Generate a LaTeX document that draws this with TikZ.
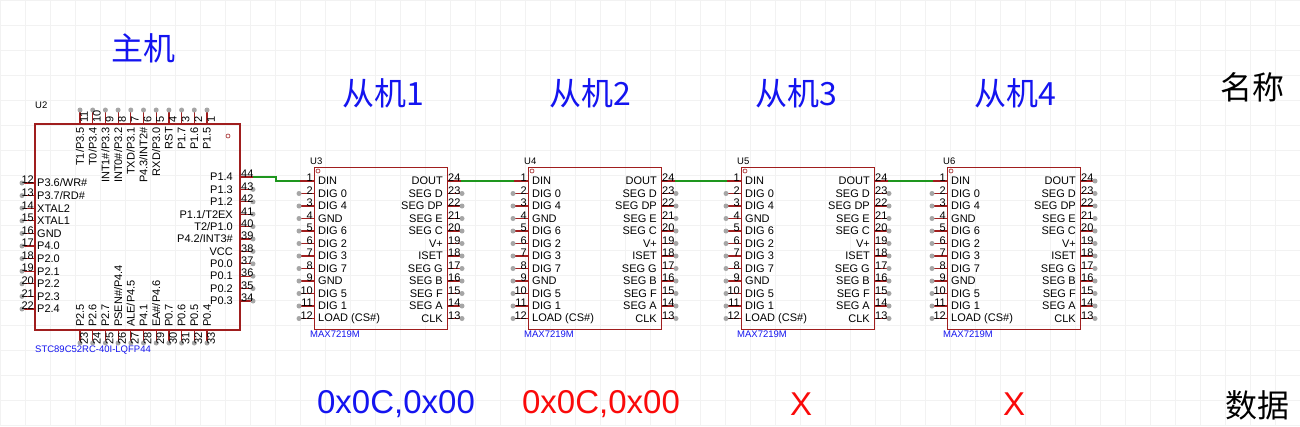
\documentclass[tikz,border=0pt]{standalone}
\usepackage{fontspec}
\setmainfont{Liberation Sans}
\newfontfamily\cjk{Noto Sans CJK SC}
\begin{document}
\begin{tikzpicture}[x=1pt,y=-1pt,
  pinl/.style={draw=pinred,line width=1.2pt},
  dot/.style={circle,fill=gray!70,inner sep=0pt,minimum size=5pt},
  lbl/.style={font=\fontsize{11}{12}\selectfont,inner sep=0pt},
  num/.style={font=\fontsize{11}{12}\selectfont,inner sep=0pt},
  body/.style={draw=pinred,line width=1.2pt},
  wire/.style={draw=wgreen,line width=1.2pt},
  title/.style={font=\cjk\fontsize{32}{34}\selectfont,text=tblue,inner sep=0pt},
  dat/.style={font=\fontsize{33}{35}\selectfont,inner sep=0pt}]
\definecolor{pinred}{RGB}{160,30,30}
\definecolor{wgreen}{RGB}{30,150,30}
\definecolor{tblue}{RGB}{20,20,240}
\definecolor{dred}{RGB}{250,10,10}
\useasboundingbox (0,0) rectangle (1300,426);
\fill[white] (0,0) rectangle (1300,426);
\draw[gray!10,step=25pt] (0,0) grid (1300,426);
% ---------- U2
\node[body,minimum width=205pt,minimum height=206pt,inner sep=0pt] (u2) at (137.5,227) {};
\draw[pinred,line width=0.6pt] (228,136) circle (2pt);
\node[anchor=south west,font=\fontsize{9.5}{10}\selectfont,inner sep=0pt] (u2n) at (35,109) {U2};
\node[anchor=north west,font=\fontsize{9.5}{10}\selectfont,text=tblue,inner sep=0pt] (u2p) at (35,346) {STC89C52RC-40I-LQFP44};
% left
\foreach \t [count=\i from 0] in {P3.6/WR\#,P3.7/RD\#,XTAL2,XTAL1,GND,P4.0,P2.0,P2.1,P2.2,P2.3,P2.4}{
  \pgfmathsetmacro\yy{183+12.6*\i}
  \pgfmathtruncatemacro\n{12+\i}
  \draw[pinl] (22,\yy) -- (35,\yy);
  \node[dot] at (22,\yy) {};
  \node[lbl,anchor=west] at (37,\yy) {\t};
  \node[num,anchor=south east] at (34,\yy+1) {\n};
}
% right
\foreach \t [count=\i from 0] in {P1.4,P1.3,P1.2,P1.1/T2EX,T2/P1.0,P4.2/INT3\#,VCC,P0.0,P0.1,P0.2,P0.3}{
  \pgfmathsetmacro\yy{177+12.4*\i}
  \pgfmathtruncatemacro\n{44-\i}
  \draw[pinl] (240,\yy) -- (253,\yy);
  \ifnum\i>0 \node[dot] at (253,\yy) {};\fi
  \node[lbl,anchor=east] at (233,\yy) {\t};
  \node[num,anchor=south west] at (241,\yy+1) {\n};
}
% top
\foreach \t [count=\i from 0] in {T1/P3.5,T0/P3.4,INT1\#/P3.3,INT0\#/P3.2,TXD/P3.1,P4.3/INT2\#,RXD/P3.0,RST,P1.7,P1.6,P1.5}{
  \pgfmathsetmacro\xx{80+12.7*\i}
  \pgfmathtruncatemacro\n{11-\i}
  \draw[pinl] (\xx,110) -- (\xx,124);
  \node[dot] at (\xx,110) {};
  \node[lbl,anchor=east,rotate=90] at (\xx,127) {\t};
  \node[num,anchor=north west,rotate=90] at (\xx,123) {\n};
}
% bottom
\foreach \t [count=\i from 0] in {P2.5,P2.6,P2.7,PSEN\#/P4.4,ALE/P4.5,P4.1,EA\#/P4.6,P0.7,P0.6,P0.5,P0.4}{
  \pgfmathsetmacro\xx{80+12.7*\i}
  \pgfmathtruncatemacro\n{23+\i}
  \draw[pinl] (\xx,330) -- (\xx,343);
  \node[dot] at (\xx,343) {};
  \node[lbl,anchor=west,rotate=90] at (\xx,327) {\t};
  \node[num,anchor=north east,rotate=90] at (\xx,332) {\n};
}
% ---------- MAX7219 chips
\foreach \X/\U in {314/3,528/4,741/5,947/6}{
  \node[body,minimum width=133pt,minimum height=162pt,inner sep=0pt,anchor=north west] (u\U) at (\X,167) {};
  \draw[pinred,line width=0.6pt] (\X+4,171) circle (2pt);
  \node[anchor=south west,font=\fontsize{9.5}{10}\selectfont,inner sep=0pt] (u\U n) at (\X-4,165) {U\U};
  \node[anchor=north west,font=\fontsize{9.5}{10}\selectfont,text=tblue,inner sep=0pt] (u\U p) at (\X-4,331) {MAX7219M};
  \foreach \t [count=\i from 0] in {DIN,DIG 0,DIG 4,GND,DIG 6,DIG 2,DIG 3,DIG 7,GND,DIG 5,DIG 1,LOAD (CS\#)}{
    \pgfmathsetmacro\yy{181+12.5*\i}
    \pgfmathtruncatemacro\n{1+\i}
    \draw[pinl] (\X-14,\yy) -- (\X,\yy);
    \ifnum\i>0 \node[dot] at (\X-15,\yy) {};\fi
    \node[lbl,anchor=west] at (\X+4,\yy) {\t};
    \node[num,anchor=south east] at (\X-1,\yy+1) {\n};
  }
  \foreach \t [count=\i from 0] in {DOUT,SEG D,SEG DP,SEG E,SEG C,V+,ISET,SEG G,SEG B,SEG F,SEG A,CLK}{
    \pgfmathsetmacro\yy{181+12.5*\i}
    \pgfmathtruncatemacro\n{24-\i}
    \draw[pinl] (\X+133,\yy) -- (\X+147,\yy);
    \ifnum\i>0 \node[dot] at (\X+148,\yy) {};\fi
    \node[lbl,anchor=east] at (\X+129,\yy) {\t};
    \node[num,anchor=south west] at (\X+134,\yy+1) {\n};
  }
}
\node[dot] at (1095,181) {};
% wires
\coordinate (a1) at (253,177); \coordinate (b1) at (300,181);
\draw[wire] (a1) -- (276,177) |- (b1);
\coordinate (a2) at (461,181); \coordinate (b2) at (514,181);
\draw[wire] (a2) -- (b2);
\coordinate (a3) at (675,181); \coordinate (b3) at (727,181);
\draw[wire] (a3) -- (b3);
\coordinate (a4) at (888,181); \coordinate (b4) at (933,181);
\draw[wire] (a4) -- (b4);
% titles
\node[title] (t0) at (143,48) {主机};
\node[title] (t1) at (383,93) {从机1};
\node[title] (t2) at (590,93) {从机2};
\node[title] (t3) at (796,93) {从机3};
\node[title] (t4) at (1015,93) {从机4};
\node[title,text=black] (tn) at (1252,87) {名称};
\node[title,text=black] (td) at (1257,405) {数据};
\node[dat,text=tblue] (d1) at (396,404) {0x0C,0x00};
\node[dat,text=dred] (d2) at (601,404) {0x0C,0x00};
\node[dat,text=dred] (d3) at (801,404) {X};
\node[dat,text=dred] (d4) at (1014,404) {X};
\end{tikzpicture}
\end{document}
